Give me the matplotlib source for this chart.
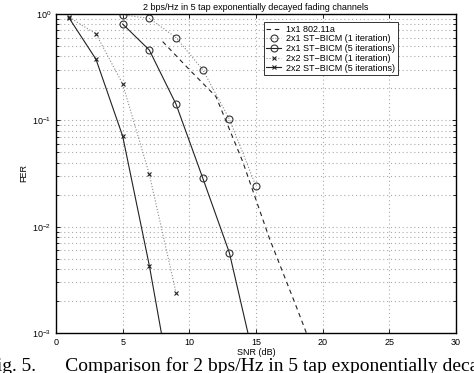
import matplotlib
matplotlib.use("Agg")
import matplotlib.pyplot as plt
from matplotlib.ticker import LogLocator, NullFormatter, FixedLocator

plt.rcParams['font.family'] = ['Liberation Sans', 'DejaVu Sans']
plt.rcParams['mathtext.fontset'] = 'custom'
plt.rcParams['mathtext.rm'] = 'Liberation Sans'

# Data
snr_11a = [8, 10, 12, 14, 16, 18, 20]
fer_11a = [0.55, 0.30, 0.167, 0.041, 0.0078, 0.0018, 0.0004]

snr_2x1 = [5, 7, 9, 11, 13, 15]
fer_2x1_it1 = [0.98, 0.91, 0.60, 0.30, 0.103, 0.024]
snr_2x1_5 = [5, 7, 9, 11, 13, 15]
fer_2x1_it5 = [0.805, 0.458, 0.142, 0.0288, 0.0057, 0.00047]

snr_2x2_1 = [1, 3, 5, 7, 9]
fer_2x2_it1 = [0.93, 0.65, 0.22, 0.031, 0.0024]
snr_2x2_5 = [1, 3, 5, 7, 9]
fer_2x2_it5 = [0.91, 0.375, 0.071, 0.0043, 0.00017]

labels = ['1x1 802.11a', '2x1 ST\u2212BICM (1 iteration)', '2x1 ST\u2212BICM (5 iterations)',
          '2x2 ST\u2212BICM (1 iteration)', '2x2 ST\u2212BICM (5 iterations)']
title = '2 bps/Hz in 5 tap exponentially decayed fading channels'
caption = 'Fig. 5.      Comparison for 2 bps/Hz in 5 tap exponentially decayed fading channels'

fs = 6.5
fig = plt.figure(figsize=(4.74, 3.73), dpi=100)
ax = fig.add_axes([56/474, 1 - 333/373, (456-56)/474, (333-14)/373])

lw = 0.8
ax.semilogy(snr_11a, fer_11a, color='#222222', linestyle=(0, (4, 3.5)), lw=lw, label=labels[0])
ax.semilogy(snr_2x1, fer_2x1_it1, color='#888888', linestyle=':', lw=lw, marker='o', ms=5,
            mfc='none', mec='#333333', mew=0.8, label=labels[1])
ax.semilogy(snr_2x1_5, fer_2x1_it5, color='#222222', linestyle='-', lw=lw, marker='o', ms=5,
            mfc='none', mec='#333333', mew=0.8, label=labels[2])
ax.semilogy(snr_2x2_1, fer_2x2_it1, color='#888888', linestyle=':', lw=lw, marker='x', ms=3,
            mec='#222222', mew=0.8, label=labels[3])
ax.semilogy(snr_2x2_5, fer_2x2_it5, color='#222222', linestyle='-', lw=lw, marker='x', ms=3,
            mec='#222222', mew=0.8, label=labels[4])

ax.set_xlim(0, 30)
ax.set_ylim(1e-3, 1)
ax.xaxis.set_major_locator(FixedLocator([0, 5, 10, 15, 20, 25, 30]))
ax.yaxis.set_major_locator(LogLocator(base=10, numticks=10))
ax.yaxis.set_minor_locator(LogLocator(base=10, subs=range(2, 10), numticks=10))
ax.yaxis.set_minor_formatter(NullFormatter())

ax.grid(True, which='major', axis='both', color='#aaaaaa', linestyle=(0, (1, 2.5)), lw=0.8)
ax.grid(True, which='minor', axis='y', color='#aaaaaa', linestyle=(0, (1, 2.5)), lw=0.8)

ax.tick_params(which='both', direction='in', top=True, right=True, labelsize=fs, width=0.6)
ax.tick_params(which='major', length=3)
ax.tick_params(which='minor', length=2)
for s in ax.spines.values():
    s.set_linewidth(1.0)

ax.set_xlabel('SNR (dB)', fontsize=fs, labelpad=0.5)
ax.set_ylabel('FER', fontsize=fs, labelpad=3)
ax.set_title(title, fontsize=fs, pad=3)

leg = ax.legend(loc='upper right', bbox_to_anchor=((398-56)/400, 1 - 8/319), fontsize=fs,
                handlelength=1.6, handletextpad=0.6, borderpad=0.3, labelspacing=0.08,
                borderaxespad=0, frameon=True, fancybox=False, edgecolor='#333333',
                framealpha=1)
leg.get_frame().set_linewidth(0.7)

fig.text(-14/474, 2/373, caption, fontsize=14, family=['Liberation Serif', 'DejaVu Serif'],
         ha='left', va='baseline')

fig.savefig('out.png', dpi=100)
